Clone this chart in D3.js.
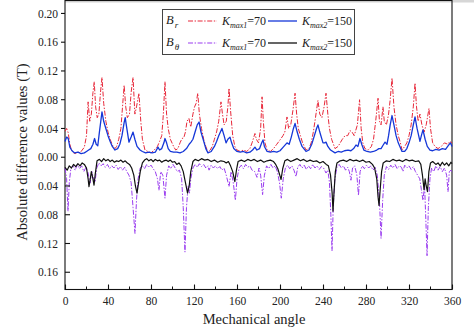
<!DOCTYPE html>
<html>
<head>
<meta charset="utf-8">
<script src="https://cdn.jsdelivr.net/npm/d3@7.9.0/dist/d3.min.js"></script>
<style>
  html, body { margin: 0; padding: 0; background: #fff; }
  svg { display: block; font-family: "Liberation Serif", "Times New Roman", serif; }
</style>
</head>
<body>
<svg id="chart" width="474" height="332"></svg>
<script>
// Absolute differences of B_r and B_theta over one mechanical revolution, [angle, T]
const brK70 = [
  [0, 0.036], [1.5, 0.04], [3, 0.034], [4.5, 0.018], [6, 0.01], [8, 0.006], [10, 0.005], [12, 0.008],
  [14, 0.006], [16, 0.01], [18, 0.014], [20, 0.03], [21.5, 0.077], [23, 0.05], [24.5, 0.06], [26, 0.09],
  [27.2, 0.105], [28.5, 0.07], [30, 0.055], [31.5, 0.06], [33, 0.09], [34.4, 0.111], [36, 0.075], [38, 0.05],
  [40, 0.035], [42, 0.025], [44, 0.017], [46.5, 0.012], [48, 0.015], [50, 0.025], [52, 0.04], [53.5, 0.07],
  [55, 0.1], [56.5, 0.07], [58, 0.055], [60, 0.06], [61.5, 0.09], [63.3, 0.111], [65, 0.06], [66.5, 0.07],
  [68.8, 0.089], [70.5, 0.05], [72, 0.025], [74.4, 0.01], [77, 0.008], [80, 0.006], [83, 0.01], [86, 0.015],
  [88, 0.022], [90, 0.03], [91.5, 0.06], [93, 0.105], [94.5, 0.06], [96, 0.04], [98, 0.025], [101, 0.015],
  [103, 0.01], [105, 0.012], [107, 0.02], [108.8, 0.026], [110.5, 0.027], [112, 0.035], [113.5, 0.05],
  [115.3, 0.054], [117, 0.042], [119, 0.06], [120.5, 0.07], [122, 0.075], [123.5, 0.089], [125, 0.06],
  [127, 0.04], [129, 0.025], [131, 0.015], [133, 0.007], [135, 0.01], [137, 0.015], [139, 0.025], [141, 0.035],
  [143, 0.05], [145.1, 0.077], [146.5, 0.06], [148, 0.045], [150, 0.05], [151.5, 0.07], [152.6, 0.096],
  [154, 0.065], [156, 0.03], [158, 0.015], [160, 0.01], [163, 0.008], [166, 0.01], [169, 0.008], [172, 0.012],
  [174, 0.02], [176.7, 0.033], [178, 0.025], [180, 0.02], [182, 0.04], [183.3, 0.084], [184.5, 0.05],
  [186, 0.02], [188, 0.01], [191, 0.008], [194, 0.012], [197, 0.018], [200, 0.024], [202.8, 0.03],
  [204.5, 0.035], [206.5, 0.056], [208, 0.04], [210, 0.045], [212, 0.065], [214, 0.089], [215.5, 0.06],
  [217, 0.04], [219, 0.03], [221, 0.02], [224.2, 0.01], [227, 0.012], [229, 0.02], [231, 0.035], [233, 0.055],
  [235.3, 0.079], [237, 0.06], [239, 0.055], [241, 0.07], [242.8, 0.089], [244.5, 0.06], [246, 0.04],
  [248, 0.025], [251.2, 0.012], [254, 0.015], [256, 0.02], [258, 0.025], [260.5, 0.03], [263, 0.03],
  [265.1, 0.037], [267, 0.035], [269, 0.03], [272, 0.045], [274, 0.08], [275.5, 0.04], [277, 0.02],
  [279, 0.012], [282, 0.01], [285, 0.015], [287, 0.025], [289, 0.05], [291.2, 0.082], [292.5, 0.05],
  [294, 0.045], [295.8, 0.07], [297, 0.05], [299, 0.045], [301, 0.06], [302.5, 0.08], [304.2, 0.11],
  [306, 0.07], [308, 0.045], [310, 0.03], [312, 0.02], [313.5, 0.01], [316, 0.015], [318, 0.02], [320, 0.03],
  [322, 0.045], [324, 0.07], [325.6, 0.103], [327, 0.07], [328.5, 0.05], [330.2, 0.06], [332, 0.045],
  [334, 0.035], [336, 0.045], [338.6, 0.068], [340, 0.04], [342, 0.02], [344.2, 0.015], [347, 0.012],
  [350, 0.015], [353, 0.02], [356, 0.018], [358, 0.022], [360, 0.02]
];

const brK150 = [
  [0, 0.022], [1.5, 0.028], [3, 0.026], [4.5, 0.014], [6.5, 0.009], [9, 0.006], [12, 0.007], [15, 0.005],
  [18, 0.006], [20, 0.008], [22, 0.01], [24, 0.012], [26, 0.018], [27.5, 0.026], [29, 0.018], [30.5, 0.016],
  [32, 0.035], [34.4, 0.063], [36, 0.05], [38, 0.04], [40, 0.03], [42, 0.022], [44, 0.015], [46.5, 0.01],
  [49, 0.012], [51, 0.018], [53, 0.03], [55, 0.048], [56, 0.055], [57.5, 0.04], [59.5, 0.021], [61.5, 0.028],
  [63.3, 0.035], [65, 0.025], [67, 0.015], [69.8, 0.01], [72, 0.008], [75, 0.006], [78, 0.007], [81, 0.006],
  [84, 0.007], [86.5, 0.014], [88, 0.01], [90, 0.012], [92, 0.02], [93, 0.026], [94.5, 0.02], [96, 0.012],
  [98, 0.008], [101, 0.007], [104, 0.007], [107, 0.006], [110, 0.008], [113, 0.012], [115.5, 0.018],
  [117.2, 0.021], [119, 0.025], [121, 0.035], [123, 0.045], [124.7, 0.049], [126.5, 0.035], [128.5, 0.025],
  [131, 0.012], [133, 0.006], [136, 0.008], [139, 0.015], [141, 0.022], [143, 0.03], [146, 0.04], [148, 0.03],
  [149.8, 0.02], [151.5, 0.025], [153.5, 0.028], [155, 0.02], [157, 0.012], [160, 0.008], [163, 0.007],
  [166, 0.008], [169, 0.006], [172, 0.007], [174.5, 0.01], [176.7, 0.014], [178.5, 0.01], [181, 0.012],
  [183, 0.02], [184.2, 0.024], [185.5, 0.015], [188, 0.008], [191, 0.007], [194, 0.008], [197, 0.007],
  [200, 0.009], [203, 0.014], [206.5, 0.02], [208.5, 0.018], [210.5, 0.028], [212.5, 0.04], [214, 0.047],
  [216, 0.035], [218, 0.025], [220.5, 0.015], [224.2, 0.008], [227, 0.01], [229.5, 0.018], [232, 0.03],
  [234, 0.04], [235.3, 0.045], [237, 0.035], [240, 0.02], [241.5, 0.02], [242.8, 0.021], [244.5, 0.015],
  [247, 0.01], [251.2, 0.006], [254, 0.008], [257, 0.007], [260, 0.009], [263.3, 0.01], [266, 0.009],
  [268.5, 0.012], [270.7, 0.017], [272.5, 0.015], [274.4, 0.026], [276, 0.018], [278, 0.01], [281, 0.008],
  [284, 0.007], [287, 0.008], [290, 0.01], [292, 0.012], [294, 0.012], [296, 0.017], [297.7, 0.021],
  [299.5, 0.018], [301, 0.03], [302.5, 0.045], [304.2, 0.058], [306, 0.045], [308, 0.03], [310, 0.02],
  [313.5, 0.008], [316, 0.008], [318, 0.012], [320, 0.02], [322, 0.03], [324, 0.045], [325.6, 0.056],
  [327.5, 0.04], [330.2, 0.022], [331.5, 0.03], [333, 0.038], [335, 0.025], [337, 0.015], [339.5, 0.01],
  [342, 0.009], [345, 0.011], [348, 0.01], [351, 0.012], [354, 0.011], [356.5, 0.016], [358.5, 0.02], [360, 0.015]
];

const btK70 = [
  [0, -0.015], [1.5, -0.03], [2.8, -0.075], [4, -0.035], [5.5, -0.015], [7.5, -0.012], [9.5, -0.018],
  [11.5, -0.01], [13.5, -0.016], [15.5, -0.012], [17.5, -0.02], [19.5, -0.014], [21.5, -0.022], [23.3, -0.036],
  [25, -0.02], [26.5, -0.03], [27.9, -0.035], [29.5, -0.015], [31.5, -0.008], [33.5, -0.012], [35.5, -0.009],
  [37.5, -0.014], [39.5, -0.01], [41.5, -0.016], [43.5, -0.012], [45.5, -0.015], [47.5, -0.011], [49.5, -0.017],
  [51.5, -0.013], [53.5, -0.018], [55.5, -0.014], [57.5, -0.02], [59.5, -0.025], [61.5, -0.035], [63.3, -0.07],
  [65.1, -0.106], [66.5, -0.06], [68, -0.03], [70, -0.015], [72, -0.012], [74, -0.016], [76, -0.01],
  [78, -0.014], [80, -0.011], [82, -0.016], [84, -0.02], [86, -0.03], [87.4, -0.046], [89, -0.02], [91, -0.025],
  [93, -0.057], [94.5, -0.025], [96.5, -0.012], [98.5, -0.016], [100.5, -0.01], [102.5, -0.015], [104.5, -0.02],
  [106.5, -0.018], [108.5, -0.03], [110, -0.07], [111.6, -0.132], [113, -0.07], [114.5, -0.04], [115.8, -0.05],
  [117, -0.03], [119, -0.015], [121, -0.01], [123, -0.014], [125, -0.009], [127, -0.013], [129, -0.01],
  [131, -0.015], [133, -0.012], [134, -0.018], [136, -0.011], [138, -0.015], [140, -0.012], [142, -0.016],
  [144, -0.013], [146, -0.018], [148, -0.015], [150, -0.025], [152.6, -0.041], [154.5, -0.02], [156.5, -0.035],
  [158.5, -0.06], [160, -0.03], [162, -0.015], [164, -0.011], [166, -0.016], [168, -0.01], [170, -0.014],
  [172, -0.012], [174, -0.018], [176.5, -0.02], [178.6, -0.028], [180.5, -0.015], [182, -0.025], [183.8, -0.052],
  [185.5, -0.025], [187.5, -0.012], [189.5, -0.016], [191.5, -0.01], [193.5, -0.015], [195.5, -0.012],
  [197.5, -0.02], [199.5, -0.035], [201.2, -0.057], [203, -0.03], [205, -0.015], [207, -0.011], [209, -0.016],
  [211, -0.012], [213, -0.018], [214.9, -0.027], [216.5, -0.014], [218.5, -0.01], [220.5, -0.015],
  [222.5, -0.011], [224.5, -0.017], [226.5, -0.012], [228.5, -0.016], [230.5, -0.01], [232.5, -0.015],
  [234.5, -0.012], [236.5, -0.017], [238.5, -0.013], [240.5, -0.015], [242.8, -0.022], [244.5, -0.018],
  [246, -0.035], [247.3, -0.08], [248.4, -0.13], [249.5, -0.07], [251, -0.03], [253, -0.014], [255, -0.01],
  [257, -0.015], [259, -0.012], [261, -0.018], [263, -0.014], [264.5, -0.02], [266, -0.032], [267.5, -0.015],
  [269.5, -0.012], [271.5, -0.025], [273, -0.053], [274.5, -0.02], [276.5, -0.012], [278.5, -0.016],
  [280.5, -0.011], [282.5, -0.015], [284.5, -0.012], [286.5, -0.018], [288.5, -0.014], [290.5, -0.025],
  [292.5, -0.06], [294, -0.113], [295.5, -0.06], [297, -0.025], [299, -0.013], [301, -0.017], [303, -0.011],
  [305, -0.015], [307, -0.01], [309, -0.016], [311, -0.012], [313, -0.014], [314.4, -0.02], [316, -0.011],
  [318, -0.015], [320, -0.012], [322, -0.017], [324, -0.013], [326, -0.02], [328, -0.025], [330, -0.03],
  [331.5, -0.045], [333, -0.06], [334.5, -0.04], [335.5, -0.08], [336.8, -0.137], [338, -0.07], [339.5, -0.03],
  [341, -0.015], [343, -0.02], [345, -0.012], [347, -0.018], [349, -0.013], [351, -0.02], [353, -0.015],
  [355, -0.025], [356.3, -0.048], [357.5, -0.02], [359, -0.018], [360, -0.022]
];

const btK150 = [
  [0, -0.014], [2, -0.018], [4, -0.012], [6, -0.015], [8, -0.01], [10, -0.013], [12, -0.009], [14, -0.012],
  [16, -0.008], [18, -0.01], [20, -0.015], [21.5, -0.03], [22.3, -0.041], [23.5, -0.03], [24.5, -0.02],
  [26, -0.03], [27, -0.039], [28, -0.025], [29.8, -0.005], [32, -0.003], [34, -0.006], [36, -0.002],
  [38, -0.005], [40, -0.003], [42, -0.006], [44, -0.004], [46, -0.007], [48, -0.005], [50, -0.006],
  [52, -0.004], [54, -0.007], [56, -0.005], [58, -0.008], [60, -0.01], [62, -0.015], [64, -0.025],
  [65.5, -0.04], [67, -0.05], [68.5, -0.035], [70, -0.02], [72, -0.008], [74, -0.004], [76, -0.002],
  [78, -0.005], [80, -0.003], [82, -0.006], [84, -0.003], [86, -0.005], [88, -0.004], [90, -0.007],
  [92, -0.005], [94, -0.004], [96, -0.006], [98, -0.004], [100, -0.007], [102, -0.006], [104, -0.01],
  [106, -0.008], [108, -0.012], [110, -0.02], [112, -0.035], [114, -0.05], [115.5, -0.04], [117, -0.02],
  [119, -0.006], [121, -0.003], [124, -0.005], [127, -0.002], [130, -0.004], [133, -0.003], [136, -0.006],
  [139, -0.004], [142, -0.007], [145, -0.005], [148, -0.006], [150, -0.008], [152, -0.006], [154, -0.012],
  [156, -0.02], [158, -0.034], [159.5, -0.018], [161, -0.006], [164, -0.004], [167, -0.006], [170, -0.003],
  [173, -0.005], [176, -0.003], [179, -0.006], [182, -0.004], [185, -0.007], [188, -0.005], [191, -0.004],
  [194, -0.006], [196, -0.01], [198, -0.016], [200, -0.026], [201, -0.031], [202.5, -0.016], [204.5, -0.005],
  [207, -0.003], [210, -0.006], [213, -0.004], [216, -0.002], [219, -0.005], [222, -0.003], [225, -0.006],
  [228, -0.004], [231, -0.006], [234, -0.005], [237, -0.008], [240, -0.006], [243, -0.01], [245, -0.012],
  [247, -0.025], [248.5, -0.05], [249.3, -0.075], [250.2, -0.05], [251.5, -0.02], [253, -0.008],
  [256, -0.005], [259, -0.004], [262, -0.006], [265, -0.003], [268, -0.005], [271, -0.004], [274, -0.006],
  [277, -0.004], [280, -0.007], [283, -0.006], [286, -0.01], [288, -0.015], [290, -0.03], [291.2, -0.055],
  [292.1, -0.067], [293.2, -0.045], [294.5, -0.02], [296, -0.008], [299, -0.005], [302, -0.006],
  [305, -0.003], [308, -0.005], [311, -0.004], [314, -0.006], [317, -0.003], [320, -0.005], [323, -0.004],
  [326, -0.006], [329, -0.005], [331, -0.01], [332.5, -0.025], [334, -0.045], [335, -0.03], [336, -0.04],
  [337.2, -0.048], [338.5, -0.02], [340, -0.008], [342, -0.006], [345, -0.01], [347, -0.008], [349, -0.012],
  [351, -0.007], [353, -0.011], [355, -0.008], [357, -0.012], [359, -0.007], [360, -0.009]
];

const xTicks = [0, 40, 80, 120, 160, 200, 240, 280, 320, 360];
const xMinorTicks = [20, 60, 100, 140, 180, 220, 260, 300, 340];
const yTicks = [0.20, 0.16, 0.12, 0.08, 0.04, 0.00, -0.04, -0.08, -0.12, -0.16];

const svg = d3.select('#chart');

const x = d3.scaleLinear().domain([0, 360]).range([65, 452]);
const y = d3.scaleLinear().domain([-0.184, 0.218]).range([289.5, 0.5]);

// faint band along the top edge
svg.append('rect')
    .attr('x', 65).attr('y', 0)
    .attr('width', 409).attr('height', 2.5)
    .attr('fill', '#d6d6d6');

// plot frame
svg.append('rect')
    .attr('x', x(0)).attr('y', 0.5)
    .attr('width', x(360) - x(0)).attr('height', y.range()[0] - 0.5)
    .attr('fill', 'none')
    .attr('stroke', '#111')
    .attr('stroke-width', 1.1);

const series = [
    { data: brK70, color: '#e8283a', width: 1, dash: '5,1.6,1.4,1.6' },
    { data: btK70, color: '#9a3cf0', width: 1, dash: '5,1.6,1.4,1.6' },
    { data: brK150, color: '#1537d8', width: 1.3, dash: null },
    { data: btK150, color: '#111111', width: 1.2, dash: null }
];

const line = d3.line()
    .x(d => x(d[0]))
    .y(d => y(d[1]));

const plot = svg.append('g');
series.forEach(s => {
    plot.append('path')
        .datum(s.data)
        .attr('d', line)
        .attr('fill', 'none')
        .attr('stroke', s.color)
        .attr('stroke-width', s.width)
        .attr('stroke-linejoin', 'round')
        .attr('stroke-dasharray', s.dash);
});

// x axis: major ticks every 40 deg, minor every 20, both pointing inward
const xAxis = svg.append('g')
    .attr('transform', `translate(0,${y.range()[0]})`)
    .call(d3.axisBottom(x).tickValues(xTicks).tickSize(-5).tickPadding(6).tickFormat(d3.format('d')));
xAxis.select('.domain').remove();
xAxis.selectAll('line').attr('stroke', '#111').attr('stroke-width', 1.1);
xAxis.selectAll('text').attr('font-size', 11.5).attr('fill', '#222')
    .attr('font-family', '"Liberation Serif", serif')
    .attr('y', 7);

svg.append('g')
    .selectAll('line')
    .data(xMinorTicks)
    .join('line')
    .attr('x1', d => x(d)).attr('x2', d => x(d))
    .attr('y1', y.range()[0]).attr('y2', y.range()[0] - 3)
    .attr('stroke', '#111');

// y axis: labels show magnitudes, so negative side reads without sign
const yAxis = svg.append('g')
    .attr('transform', `translate(${x(0)},0)`)
    .call(d3.axisLeft(y).tickValues(yTicks).tickSize(0).tickPadding(7)
        .tickFormat(d => d3.format('.2f')(Math.abs(d))));
yAxis.select('.domain').remove();
yAxis.selectAll('text').attr('font-size', 11.5).attr('fill', '#222')
    .attr('font-family', '"Liberation Serif", serif');

svg.append('g')
    .selectAll('line')
    .data(yTicks)
    .join('line')
    .attr('x1', d => d >= 0 ? x(0) - 4 : x(0))
    .attr('x2', d => d >= 0 ? x(0) : x(0) + 5)
    .attr('y1', d => y(d)).attr('y2', d => y(d))
    .attr('stroke', '#111')
    .attr('stroke-width', 1.1);

// axis titles
svg.append('text')
    .attr('x', 254).attr('y', 324)
    .attr('text-anchor', 'middle')
    .attr('font-size', 14.5)
    .attr('fill', '#222')
    .text('Mechanical angle');

svg.append('text')
    .attr('transform', 'translate(27,152) rotate(-90)')
    .attr('text-anchor', 'middle')
    .attr('font-size', 14.5)
    .attr('fill', '#222')
    .text('Absolute difference values (T)');

// legend
const legend = svg.append('g');
legend.append('rect')
    .attr('x', 162.5).attr('y', 9.5)
    .attr('width', 192).attr('height', 45)
    .attr('fill', '#fff')
    .attr('stroke', '#444')
    .attr('stroke-width', 1);

const rows = [
    { sym: 'B', sub: 'r', ty: 21, dashed: series[0], solid: series[2] },
    { sym: 'B', sub: 'θ', ty: 43, dashed: series[1], solid: series[3] }
];

function kLabel(g, lx, ly, sub, val) {
    const t = g.append('text')
        .attr('x', lx).attr('y', ly + 4)
        .attr('font-size', 12)
        .attr('fill', '#222');
    t.append('tspan').attr('font-style', 'italic').text('K');
    t.append('tspan').attr('font-style', 'italic').attr('font-size', 8).attr('dy', 3).text(sub);
    t.append('tspan').attr('dy', -3).text('=' + val);
}

rows.forEach(r => {
    const t = legend.append('text')
        .attr('x', 166).attr('y', r.ty + 3)
        .attr('font-size', 12.5)
        .attr('font-style', 'italic')
        .attr('fill', '#222');
    t.append('tspan').text(r.sym);
    t.append('tspan').attr('font-size', 9).attr('dx', 1).attr('dy', 4).text(r.sub);

    legend.append('line')
        .attr('x1', 188).attr('x2', 217)
        .attr('y1', r.ty).attr('y2', r.ty)
        .attr('stroke', r.dashed.color)
        .attr('stroke-width', 1.2)
        .attr('stroke-dasharray', r.dashed.dash);
    kLabel(legend, 222, r.ty, 'max1', 70);

    legend.append('line')
        .attr('x1', 268).attr('x2', 297)
        .attr('y1', r.ty).attr('y2', r.ty)
        .attr('stroke', r.solid.color)
        .attr('stroke-width', 1.3);
    kLabel(legend, 302, r.ty, 'max2', 150);
});
</script>
</body>
</html>
